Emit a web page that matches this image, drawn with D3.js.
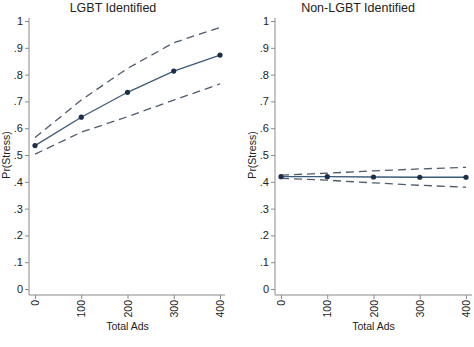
<!DOCTYPE html>
<html>
<head>
<meta charset="utf-8">
<script src="https://cdn.jsdelivr.net/npm/d3@7"></script>
<style>
  body { margin: 0; background: #fff; }
  svg { font-family: Arial, "Liberation Sans", sans-serif; }
</style>
</head>
<body>
<svg id="chart" width="474" height="347"></svg>
<script>
var ads = [0, 100, 200, 300, 400];
var yTicks = [0, .1, .2, .3, .4, .5, .6, .7, .8, .9, 1];
var yTickLabels = ["0", ".1", ".2", ".3", ".4", ".5", ".6", ".7", ".8", ".9", "1"];

var lgbtFit = [0.535, 0.641, 0.734, 0.813, 0.873];
var lgbtHi = [0.565, 0.705, 0.823, 0.919, 0.976];
var lgbtLo = [0.503, 0.585, 0.643, 0.705, 0.765];

var nonFit = [0.419, 0.419, 0.418, 0.417, 0.417];
var nonHi = [0.425, 0.432, 0.441, 0.448, 0.454];
var nonLo = [0.413, 0.406, 0.396, 0.387, 0.380];

var panels = [
  { title: "LGBT Identified", left: 29, right: 225, x0: 35, x1: 220, titleX: 113, fit: lgbtFit, hi: lgbtHi, lo: lgbtLo },
  { title: "Non-LGBT Identified", left: 275, right: 472, x0: 281, x1: 466, titleX: 358, fit: nonFit, hi: nonHi, lo: nonLo }
];

var svg = d3.select("#chart");

panels.forEach(function(p) {
  var g = svg.append("g");
  var x = d3.scaleLinear().domain([0, 400]).range([p.x0, p.x1]);
  var y = d3.scaleLinear().domain([0, 1]).range([289, 21]);
  var axisY = 295;

  // y axis
  g.append("g")
    .attr("transform", "translate(" + p.left + ",0)")
    .call(d3.axisLeft(y).tickValues(yTicks).tickSize(4).tickPadding(2)
      .tickFormat(function(d, i) { return yTickLabels[i]; }))
    .call(function(a) {
      a.select(".domain").attr("d", "M0," + axisY + "V18").attr("stroke", "#8a8a8a");
      a.selectAll(".tick line").attr("stroke", "#8a8a8a");
      a.selectAll(".tick text").attr("font-size", 11).attr("fill", "#222").attr("font-family", "Arial, 'Liberation Sans', sans-serif");
    });

  // x axis
  g.append("g")
    .attr("transform", "translate(0," + axisY + ")")
    .call(d3.axisBottom(x).tickValues(ads).tickSize(4).tickFormat(d3.format("d")))
    .call(function(a) {
      a.select(".domain").attr("d", "M" + p.left + ",0H" + p.right).attr("stroke", "#8a8a8a");
      a.selectAll(".tick line").attr("stroke", "#8a8a8a");
      a.selectAll(".tick text")
        .attr("font-size", 10.5).attr("fill", "#222")
        .attr("font-family", "Arial, 'Liberation Sans', sans-serif")
        .attr("transform", "rotate(-90)")
        .attr("text-anchor", "end")
        .attr("x", -5).attr("y", 0).attr("dy", "0.35em");
    });

  // titles
  g.append("text").attr("x", p.titleX).attr("y", 12)
    .attr("text-anchor", "middle").attr("font-size", 12.5).attr("fill", "#222")
    .text(p.title);
  g.append("text")
    .attr("transform", "translate(" + (p.left - 19) + ",155) rotate(-90)")
    .attr("text-anchor", "middle").attr("font-size", 10.5).attr("fill", "#222")
    .text("Pr(Stress)");
  g.append("text").attr("x", (p.x0 + p.x1) / 2).attr("y", 330)
    .attr("text-anchor", "middle").attr("font-size", 10.5).attr("fill", "#222")
    .text("Total Ads");

  var line = d3.line()
    .x(function(d, i) { return x(ads[i]); })
    .y(function(d) { return y(d); });

  [p.hi, p.lo].forEach(function(ci) {
    g.append("path").datum(ci).attr("d", line)
      .attr("fill", "none").attr("stroke", "#4d5b6c").attr("stroke-width", 1.3)
      .attr("stroke-dasharray", "8,5");
  });

  g.append("path").datum(p.fit).attr("d", line)
    .attr("fill", "none").attr("stroke", "#3d5a78").attr("stroke-width", 1.3);

  g.selectAll("circle.pt").data(p.fit).enter().append("circle")
    .attr("class", "pt")
    .attr("cx", function(d, i) { return x(ads[i]); })
    .attr("cy", function(d) { return y(d); })
    .attr("r", 2.6)
    .attr("fill", "#1b2f4a");
});
</script>
</body>
</html>
